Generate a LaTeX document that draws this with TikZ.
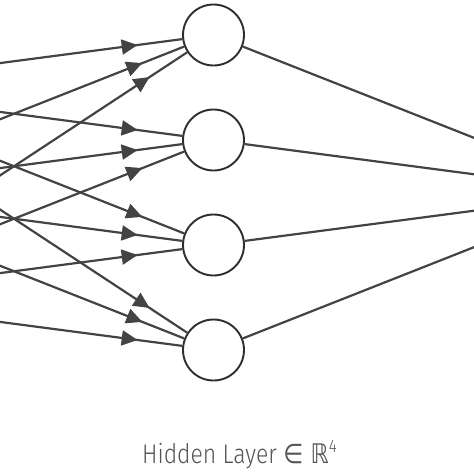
\documentclass[tikz,border=0pt]{standalone}
\usepackage{fontspec}
\usepackage{graphicx}
\usetikzlibrary{arrows.meta,decorations.markings}
\newfontfamily\lblfont{Fira Sans Light}
\newfontfamily\symfont{DejaVu Sans}
\definecolor{edgecol}{HTML}{434343}
\definecolor{nodecol}{HTML}{2E2E2E}
\definecolor{textcol}{HTML}{555555}
\begin{document}
\begin{tikzpicture}[x=1pt,y=-1pt,
  neuron/.style={circle,draw=nodecol,line width=1.9pt,minimum size=61pt,inner sep=0pt,fill=white},
  inedge/.style={color=edgecol,line width=2.2pt,postaction={decorate},
    decoration={markings,mark=at position -45pt with {\arrow{Triangle[length=16pt,width=15pt]}}}},
  outedge/.style={color=edgecol,line width=2.2pt},
  lbl/.style={anchor=base west,text=textcol,inner sep=0pt,font=\lblfont\fontsize{27}{30}\selectfont}]
\useasboundingbox (0,0) rectangle (474,474);
\clip (0,0) rectangle (474,474);
\coordinate (i1) at (-185.5,87.5);
\coordinate (i2) at (-185.5,192.5);
\coordinate (i3) at (-185.5,297.5);
\coordinate (o) at (612.5,192.5);
\node[neuron] (h1) at (213.5,35) {};
\node[neuron] (h2) at (213.5,140) {};
\node[neuron] (h3) at (213.5,245) {};
\node[neuron] (h4) at (213.5,350) {};
\foreach \i in {1,2,3}{
  \foreach \h in {1,2,3,4}{
    \draw[inedge] (i\i) -- (h\h);
  }
}
\foreach \h in {1,2,3,4}{
  \draw[outedge] (h\h) -- (o);
}
\node[lbl] (label) at (142,463) {\scalebox{0.85}[1]{Hidden Layer {\symfont ∈ ℝ}\raisebox{10.5pt}{\fontsize{18}{18}\selectfont 4}}};
\end{tikzpicture}
\end{document}
